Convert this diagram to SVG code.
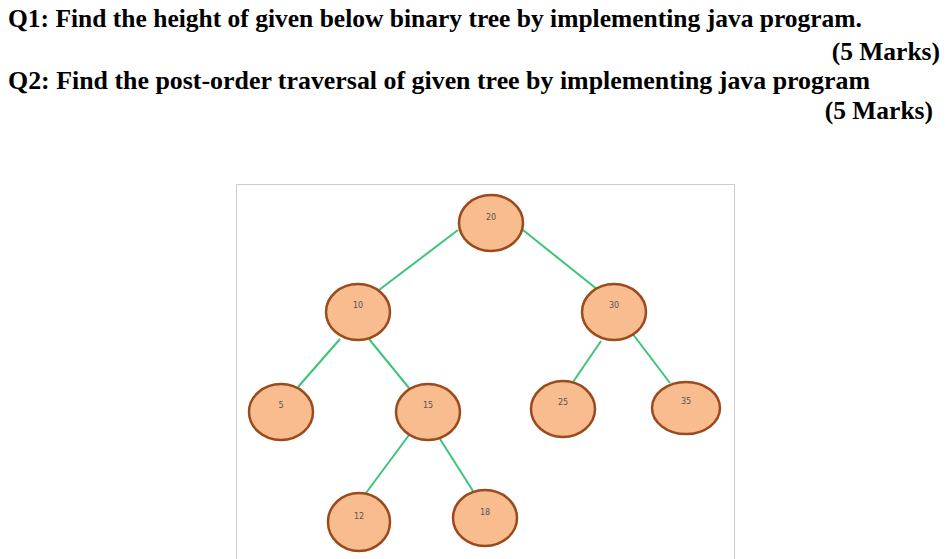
<svg xmlns="http://www.w3.org/2000/svg" width="946" height="559" viewBox="0 0 946 559">
<style>
.q{font-family:"Liberation Serif",serif;font-weight:bold;font-size:25.5px;fill:#000}
.n ellipse{fill:#f9bc8f;stroke:#9a4a1c;stroke-width:2.5}
.n text{font-family:"DejaVu Sans",sans-serif;font-size:8px;fill:#555;text-anchor:middle}
#edges line{stroke:#3cc47a;stroke-width:2}
</style>
<rect width="946" height="559" fill="#fff"/>
<text class="q" x="8" y="27" textLength="854" lengthAdjust="spacingAndGlyphs">Q1: Find the height of given below binary tree by implementing java program.</text>
<text class="q" x="940" y="60" text-anchor="end">(5 Marks)</text>
<text class="q" x="8" y="89" textLength="862" lengthAdjust="spacingAndGlyphs">Q2: Find the post-order traversal of given tree by implementing java program</text>
<text class="q" x="933" y="119" text-anchor="end">(5 Marks)</text>
<rect x="236.5" y="184.5" width="498" height="380" fill="none" stroke="#ccc"/>
<g id="edges">
<line x1="458" y1="230" x2="379" y2="290"/>
<line x1="523" y1="230" x2="598" y2="290"/>
<line x1="340" y1="339" x2="298" y2="387"/>
<line x1="369" y1="339" x2="409" y2="388"/>
<line x1="601" y1="341" x2="573" y2="382"/>
<line x1="632" y1="333" x2="670" y2="383"/>
<line x1="409" y1="435" x2="366" y2="493"/>
<line x1="440" y1="439" x2="473" y2="491"/>
</g>
<g id="n20" class="n"><ellipse cx="491" cy="223" rx="32" ry="28"/><text x="491" y="220">20</text></g>
<g id="n10" class="n"><ellipse cx="358" cy="312" rx="32" ry="28"/><text x="358" y="308">10</text></g>
<g id="n30" class="n"><ellipse cx="614" cy="312" rx="32" ry="28"/><text x="614" y="308">30</text></g>
<g id="n5" class="n"><ellipse cx="281" cy="412" rx="32" ry="28"/><text x="281" y="408">5</text></g>
<g id="n15" class="n"><ellipse cx="428" cy="412" rx="32" ry="28"/><text x="428" y="408">15</text></g>
<g id="n25" class="n"><ellipse cx="563" cy="409" rx="32" ry="28"/><text x="563" y="405">25</text></g>
<g id="n35" class="n"><ellipse cx="686" cy="408" rx="34" ry="26"/><text x="686" y="404">35</text></g>
<g id="n12" class="n"><ellipse cx="359" cy="522" rx="31" ry="29"/><text x="359" y="519">12</text></g>
<g id="n18" class="n"><ellipse cx="485" cy="518" rx="32" ry="28"/><text x="485" y="515">18</text></g>
</svg>
